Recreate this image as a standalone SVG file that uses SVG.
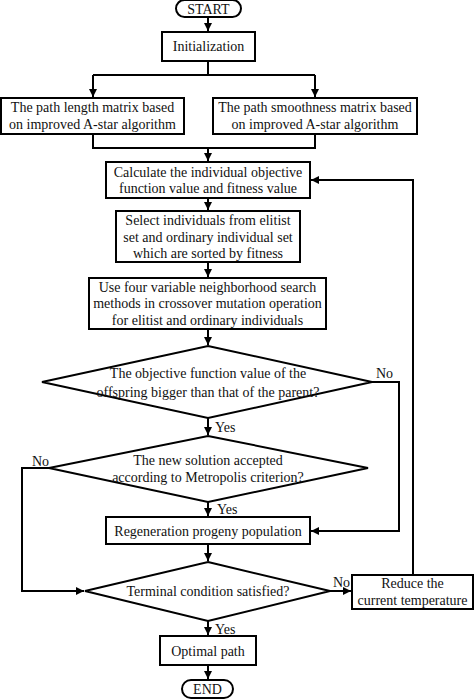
<svg xmlns="http://www.w3.org/2000/svg" width="474" height="699" viewBox="0 0 474 699">
<style>
.n{fill:#fff;stroke:#000;stroke-width:2}
.t{font-family:"Liberation Serif","Times New Roman",serif;font-size:14px;fill:#111;text-anchor:middle;dominant-baseline:central}
.l{font-family:"Liberation Serif","Times New Roman",serif;font-size:14px;fill:#111;dominant-baseline:central}
.c{fill:none;stroke:#000;stroke-width:2}
</style>
<defs>
<marker id="a" markerUnits="userSpaceOnUse" markerWidth="10" markerHeight="10" refX="8" refY="4" orient="auto">
<path d="M0,0 L8,4 L0,8 Z" fill="#000"/>
</marker>
</defs>
<rect width="474" height="699" fill="#fff"/>
<g id="connectors">
<path class="c" d="M208,17 V31" marker-end="url(#a)"/>
<path class="c" d="M208,61 V75 M93,75 H315"/>
<path class="c" d="M93,75 V97" marker-end="url(#a)"/>
<path class="c" d="M315,75 V97" marker-end="url(#a)"/>
<path class="c" d="M93,134 V148 H315 V134"/>
<path class="c" d="M208,148 V161" marker-end="url(#a)"/>
<path class="c" d="M208,198 V210" marker-end="url(#a)"/>
<path class="c" d="M208,262 V277" marker-end="url(#a)"/>
<path class="c" d="M208,329 V345" marker-end="url(#a)"/>
<path class="c" d="M208,418 V435" marker-end="url(#a)"/>
<path class="c" d="M372,382 H399 V531 H311" marker-end="url(#a)"/>
<path class="c" d="M208,502 V516" marker-end="url(#a)"/>
<path class="c" d="M49,468 H22 V591 H84" marker-end="url(#a)"/>
<path class="c" d="M208,544 V561" marker-end="url(#a)"/>
<path class="c" d="M330,591 H351" marker-end="url(#a)"/>
<path class="c" d="M413,575 V180 H311" marker-end="url(#a)"/>
<path class="c" d="M208,621 V635" marker-end="url(#a)"/>
<path class="c" d="M208,665 V679" marker-end="url(#a)"/>
<text class="l" x="376" y="373">No</text>
<text class="l" x="215" y="427">Yes</text>
<text class="l" x="32" y="461">No</text>
<text class="l" x="217" y="509">Yes</text>
<text class="l" x="333" y="582">No</text>
<text class="l" x="215" y="629">Yes</text>
</g>
<g id="start">
<rect class="n" x="176" y="0" width="65" height="17" rx="8.5"/>
<text class="t" x="208.5" y="9">START</text>
</g>
<g id="init">
<rect class="n" x="162" y="32" width="93" height="29"/>
<text class="t" x="208.5" y="46">Initialization</text>
</g>
<g id="lengthMatrix">
<rect class="n" x="1" y="98" width="183" height="36"/>
<text class="t" x="92.5" y="107">The path length matrix based</text>
<text class="t" x="92.5" y="124">on improved A-star algorithm</text>
</g>
<g id="smoothMatrix">
<rect class="n" x="213" y="98" width="204" height="36"/>
<text class="t" x="315" y="107">The path smoothness matrix based</text>
<text class="t" x="315" y="124">on improved A-star algorithm</text>
</g>
<g id="calc">
<rect class="n" x="106" y="162" width="204" height="36"/>
<text class="t" x="208" y="172">Calculate the individual objective</text>
<text class="t" x="208" y="188">function value and fitness value</text>
</g>
<g id="select">
<rect class="n" x="116" y="211" width="184" height="51"/>
<text class="t" x="208" y="220">Select individuals from elitist</text>
<text class="t" x="208" y="237">set and ordinary individual set</text>
<text class="t" x="208" y="253">which are sorted by fitness</text>
</g>
<g id="vns">
<rect class="n" x="89" y="278" width="237" height="51"/>
<text class="t" x="207.5" y="287">Use four variable neighborhood search</text>
<text class="t" x="207.5" y="303">methods in crossover mutation operation</text>
<text class="t" x="207.5" y="320">for elitist and ordinary individuals</text>
</g>
<g id="decision1">
<polygon class="n" points="208,346 372,382 208,418 42,382"/>
<text class="t" x="208" y="373">The objective function value of the</text>
<text class="t" x="208" y="392">offspring bigger than that of the parent?</text>
</g>
<g id="decision2">
<polygon class="n" points="208,436 368,468 208,502 49,468"/>
<text class="t" x="208" y="460">The new solution accepted</text>
<text class="t" x="208" y="477">according to Metropolis criterion?</text>
</g>
<g id="regen">
<rect class="n" x="106" y="517" width="204" height="27"/>
<text class="t" x="208" y="531">Regeneration progeny population</text>
</g>
<g id="decision3">
<polygon class="n" points="208,562 330,591 208,621 85,591"/>
<text class="t" x="208" y="591">Terminal condition satisfied?</text>
</g>
<g id="reduce">
<rect class="n" x="352" y="575" width="121" height="34"/>
<text class="t" x="412.5" y="583">Reduce the</text>
<text class="t" x="412.5" y="600">current temperature</text>
</g>
<g id="optimal">
<rect class="n" x="160" y="636" width="96" height="29"/>
<text class="t" x="208" y="651">Optimal path</text>
</g>
<g id="end">
<rect class="n" x="182" y="680" width="51" height="18" rx="9"/>
<text class="t" x="207.5" y="689">END</text>
</g>
</svg>
